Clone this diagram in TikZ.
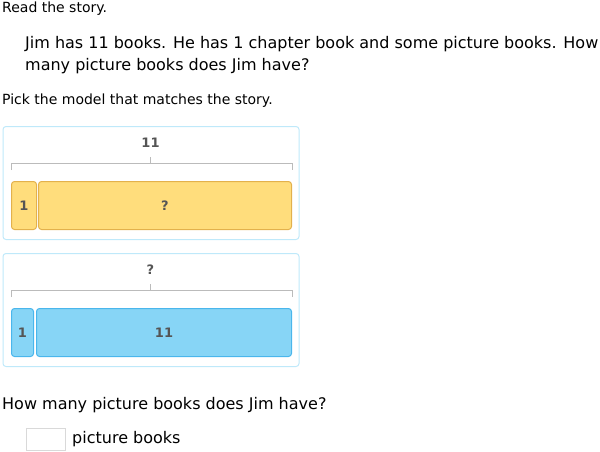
\documentclass[tikz,border=0pt]{standalone}
\usepackage{fontspec}
\setmainfont{DejaVu Sans}
\usetikzlibrary{positioning}
\definecolor{panelblue}{HTML}{BFE9FA}
\definecolor{baryellow}{HTML}{FFDD7C}
\definecolor{edgeyellow}{HTML}{E3B14C}
\definecolor{barblue}{HTML}{87D5F6}
\definecolor{edgeblue}{HTML}{4AB6EC}
\definecolor{labelgray}{HTML}{555555}
\definecolor{bracketgray}{HTML}{BBBBBB}

\begin{document}
\begin{tikzpicture}
    [x=1pt,y=-1pt,every node/.style={inner sep=0pt, font=\fontsize{14}{17}\selectfont},
     line/.style={anchor=west},
     bigline/.style={anchor=west, font=\fontsize{16}{19}\selectfont},
     panel/.style={draw=panelblue, line width=1pt, rounded corners=3pt, anchor=north west, minimum width=296pt, minimum height=113pt},
     cell/.style={line width=1pt, rounded corners=3pt, anchor=north west, minimum height=48pt, font=\fontsize{13}{15}\selectfont\bfseries, text=labelgray},
     total/.style={font=\fontsize{13}{15}\selectfont\bfseries, text=labelgray},
     bracket/.style={draw=bracketgray, line width=1pt}]
  \useasboundingbox (0,0) rectangle (600,451);

  \node[line] (read) at (2,9) {Read the story.};
  \node[bigline] (story1) at (25,44) {Jim has 11 books. He has 1 chapter book and some picture books. How};
  \node[bigline] (story2) at (25,66) {many picture books does Jim have?};
  \node[line] (pick) at (2,101) {Pick the model that matches the story.};

  % first model: 11 is the whole
  \node[panel] (panel1) at (2.5,126) {};
  \node[total] (total1) at (150.5,143) {11};
  \node[cell, fill=baryellow, draw=edgeyellow, minimum width=25pt] (one1) at (11,181) {1};
  \node[cell, fill=baryellow, draw=edgeyellow, minimum width=253pt] (rest1) at (38,181) {?};
  \draw[bracket] ([yshift=11pt]one1.north west) -- ++(0,-7) -| ([yshift=11pt]rest1.north east);
  \draw[bracket] (150.5,157) -- (150.5,163);

  % second model: 11 is a part
  \node[panel] (panel2) at (2.5,253) {};
  \node[total] (total2) at (150.5,270) {?};
  \node[cell, fill=barblue, draw=edgeblue, minimum width=22pt] (one2) at (11,308) {1};
  \node[cell, fill=barblue, draw=edgeblue, minimum width=255pt] (rest2) at (36,308) {11};
  \draw[bracket] ([yshift=11pt]one2.north west) -- ++(0,-7) -| ([yshift=11pt]rest2.north east);
  \draw[bracket] (150.5,284) -- (150.5,291);

  \node[bigline] (ask) at (2,405) {How many picture books does Jim have?};
  \node[draw=black!15, line width=1pt, anchor=north west, minimum width=39pt, minimum height=22pt] (answer) at (26,428) {};
  \node[bigline, right=6pt of answer] (unit) {picture books};
\end{tikzpicture}
\end{document}
